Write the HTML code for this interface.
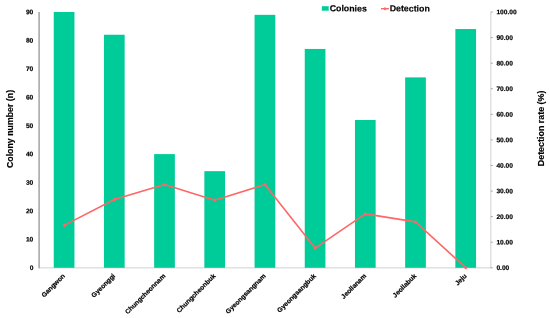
<!DOCTYPE html><html><head><meta charset="utf-8"><title>Chart</title><style>html,body{margin:0;padding:0;background:#fff}</style></head><body><svg width="550" height="318" viewBox="0 0 550 318" style="display:block">
<rect width="550" height="318" fill="#fff"/>
<path d="M39.0 267.90000000000003H491.2" fill="none" stroke="#D0D0D0" stroke-width="1"/>
<rect x="53.75" y="12.00" width="20.7" height="255.80" fill="#00CC99"/>
<rect x="103.95" y="34.74" width="20.7" height="233.06" fill="#00CC99"/>
<rect x="154.15" y="154.11" width="20.7" height="113.69" fill="#00CC99"/>
<rect x="204.35" y="171.16" width="20.7" height="96.64" fill="#00CC99"/>
<rect x="254.55" y="14.84" width="20.7" height="252.96" fill="#00CC99"/>
<rect x="304.75" y="48.95" width="20.7" height="218.85" fill="#00CC99"/>
<rect x="354.95" y="120.00" width="20.7" height="147.80" fill="#00CC99"/>
<rect x="405.15" y="77.37" width="20.7" height="190.43" fill="#00CC99"/>
<rect x="455.35" y="29.05" width="20.7" height="238.75" fill="#00CC99"/>
<path d="M39.1 12.1V268.3" fill="none" stroke="#A3A3A3" stroke-width="1.5"/>
<path d="M490.8 11.7V268.2" fill="none" stroke="#C8C8C8" stroke-width="0.8"/>
<path d="M490.8 267.8h1.9" stroke="#9A9A9A" stroke-width="0.9"/>
<path d="M490.8 242.2h1.9" stroke="#9A9A9A" stroke-width="0.9"/>
<path d="M490.8 216.6h1.9" stroke="#9A9A9A" stroke-width="0.9"/>
<path d="M490.8 191.1h1.9" stroke="#9A9A9A" stroke-width="0.9"/>
<path d="M490.8 165.5h1.9" stroke="#9A9A9A" stroke-width="0.9"/>
<path d="M490.8 139.9h1.9" stroke="#9A9A9A" stroke-width="0.9"/>
<path d="M490.8 114.3h1.9" stroke="#9A9A9A" stroke-width="0.9"/>
<path d="M490.8 88.7h1.9" stroke="#9A9A9A" stroke-width="0.9"/>
<path d="M490.8 63.2h1.9" stroke="#9A9A9A" stroke-width="0.9"/>
<path d="M490.8 37.6h1.9" stroke="#9A9A9A" stroke-width="0.9"/>
<path d="M490.8 12.0h1.9" stroke="#9A9A9A" stroke-width="0.9"/>
<polyline points="64.10,225.35 114.30,199.52 164.50,184.55 214.70,200.16 264.90,184.55 315.10,248.12 365.30,213.84 415.50,221.90 465.70,267.69" fill="none" stroke="#FF6666" stroke-width="1.6" stroke-linejoin="round"/>
<path d="M62.2 225.4L64.1 223.5L66.0 225.4L64.1 227.3Z" fill="#FF6666"/>
<path d="M112.4 199.5L114.3 197.6L116.2 199.5L114.3 201.4Z" fill="#FF6666"/>
<path d="M162.6 184.6L164.5 182.7L166.4 184.6L164.5 186.5Z" fill="#FF6666"/>
<path d="M212.8 200.2L214.7 198.3L216.6 200.2L214.7 202.1Z" fill="#FF6666"/>
<path d="M263.0 184.6L264.9 182.7L266.8 184.6L264.9 186.5Z" fill="#FF6666"/>
<path d="M313.2 248.1L315.1 246.2L317.0 248.1L315.1 250.0Z" fill="#FF6666"/>
<path d="M363.4 213.8L365.3 211.9L367.2 213.8L365.3 215.7Z" fill="#FF6666"/>
<path d="M413.6 221.9L415.5 220.0L417.4 221.9L415.5 223.8Z" fill="#FF6666"/>
<path d="M463.8 267.7L465.7 265.8L467.6 267.7L465.7 269.6Z" fill="#FF6666"/>
<g font-family="Liberation Sans, Arial, sans-serif" font-weight="bold" font-size="6.6" fill="#000" stroke="#000" stroke-width="0.2" text-anchor="end">
<text transform="translate(33.3,270.05) rotate(0.4)">0</text>
<text transform="translate(33.3,241.63) rotate(0.4)">10</text>
<text transform="translate(33.3,213.21) rotate(0.4)">20</text>
<text transform="translate(33.3,184.78) rotate(0.4)">30</text>
<text transform="translate(33.3,156.36) rotate(0.4)">40</text>
<text transform="translate(33.3,127.94) rotate(0.4)">50</text>
<text transform="translate(33.3,99.52) rotate(0.4)">60</text>
<text transform="translate(33.3,71.09) rotate(0.4)">70</text>
<text transform="translate(33.3,42.67) rotate(0.4)">80</text>
<text transform="translate(33.3,14.25) rotate(0.4)">90</text>
</g>
<g font-family="Liberation Sans, Arial, sans-serif" font-weight="bold" font-size="6.6" fill="#000" stroke="#000" stroke-width="0.2" text-anchor="start">
<text transform="translate(496.4,270.05) rotate(0.4)">0.00</text>
<text transform="translate(496.4,244.47) rotate(0.4)">10.00</text>
<text transform="translate(496.4,218.89) rotate(0.4)">20.00</text>
<text transform="translate(496.4,193.31) rotate(0.4)">30.00</text>
<text transform="translate(496.4,167.73) rotate(0.4)">40.00</text>
<text transform="translate(496.4,142.15) rotate(0.4)">50.00</text>
<text transform="translate(496.4,116.57) rotate(0.4)">60.00</text>
<text transform="translate(496.4,90.99) rotate(0.4)">70.00</text>
<text transform="translate(496.4,65.41) rotate(0.4)">80.00</text>
<text transform="translate(496.4,39.83) rotate(0.4)">90.00</text>
<text transform="translate(496.4,14.25) rotate(0.4)">100.00</text>
</g>
<g font-family="Liberation Sans, Arial, sans-serif" font-weight="bold" font-size="6.6" fill="#000" stroke="#000" stroke-width="0.2" text-anchor="end">
<text transform="translate(65.4,276.4) rotate(-45)">Gangwon</text>
<text transform="translate(115.6,276.4) rotate(-45)">Gyeonggi</text>
<text transform="translate(165.8,276.4) rotate(-45)">Chungcheonnam</text>
<text transform="translate(216.0,276.4) rotate(-45)">Chungcheonbuk</text>
<text transform="translate(266.2,276.4) rotate(-45)">Gyeongsangnam</text>
<text transform="translate(316.4,276.4) rotate(-45)">Gyeongsangbuk</text>
<text transform="translate(366.6,276.4) rotate(-45)">Jeollanam</text>
<text transform="translate(416.8,276.4) rotate(-45)">Jeollabuk</text>
<text transform="translate(467.0,276.4) rotate(-45)">Jeju</text>
</g>
<g font-family="Liberation Sans, Arial, sans-serif" font-weight="bold" font-size="8.8" fill="#000" stroke="#000" stroke-width="0.15" text-anchor="middle">
<text transform="translate(12.6,129.0) rotate(-90)">Colony number (n)</text>
<text font-size="8.92" transform="translate(544.2,128.4) rotate(-90)">Detection rate (%)</text>
</g>
<rect x="321.8" y="6.2" width="6.9" height="4.5" fill="#00CC99"/>
<path d="M381 8.7h8" stroke="#FF6666" stroke-width="1.4"/><path d="M383.3 8.7l1.7 -1.7l1.7 1.7l-1.7 1.7z" fill="#FF6666"/>
<g font-family="Liberation Sans, Arial, sans-serif" font-weight="bold" font-size="8.8" fill="#000" stroke="#000" stroke-width="0.15">
<text transform="translate(329.7,11.3) rotate(0.3)">Colonies</text><text transform="translate(389.7,11.3) rotate(0.3)">Detection</text></g>
</svg></body></html>
